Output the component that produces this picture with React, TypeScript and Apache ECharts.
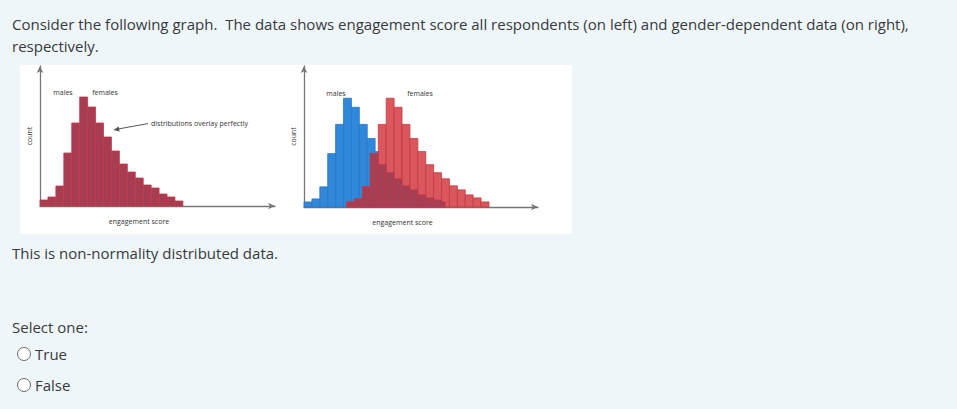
import React, { useEffect, useRef } from 'react';
import * as echarts from 'echarts';

// bin heights (arbitrary count units)
const allCounts = [6, 9, 20, 53, 83, 109, 99, 83, 69, 55, 42, 34, 28, 21, 18, 12, 9, 5];
const maleCounts = [5, 8, 20, 53, 82, 108, 99, 82, 68, 55, 42, 34, 28, 21, 17, 12, 9, 5];
const femaleCounts = [5, 8, 20, 53, 82, 108, 99, 82, 68, 55, 42, 34, 28, 21, 17, 12, 9, 5];
// where the two gender groups overlap (dark), on the female bins
const overlapCounts = [5, 8, 20, 53, 42, 34, 28, 21, 17, 12, 9, 7, 5];
const femaleShift = 5.4;
const overlapEnd = 12.45;

const scoreMax = 29.6;
const countMax = 140;

const toBins = (counts: number[], start: number, end?: number) =>
    counts.map((c, i) => [start + i, start + Math.min(i + 1, end ?? counts.length), c]);

const histItem = (fill: string, stroke: string) => (params: any, api: any) => {
    const p0 = api.coord([api.value(0), api.value(2)]);
    const p1 = api.coord([api.value(1), 0]);
    return {
        type: 'rect',
        shape: { x: p0[0], y: p0[1], width: p1[0] - p0[0], height: p1[1] - p0[1] },
        style: { fill, stroke, lineWidth: 0.8 },
    };
};

const txt = '#333';
const small = { fontFamily: 'Open Sans', fontSize: 7, color: txt };

const axisLine = {
    show: true,
    symbol: ['none', 'arrow'],
    symbolSize: [5, 7],
    lineStyle: { color: '#777', width: 1.3 },
};

const makeAxes = (gridIndex: number) => ({
    x: {
        type: 'value',
        gridIndex,
        min: 0,
        max: scoreMax,
        name: 'engagement score',
        nameLocation: 'middle',
        nameGap: 12,
        // the label sits left of the axis middle in the picture
        nameTextStyle: { ...small, padding: [0, 37, 0, 0] },
        axisLine,
        axisTick: { show: false },
        axisLabel: { show: false },
        splitLine: { show: false },
    },
    y: {
        type: 'value',
        gridIndex,
        min: 0,
        max: countMax,
        name: 'count',
        nameLocation: 'middle',
        nameGap: 7,
        nameRotate: 90,
        nameTextStyle: small,
        axisLine,
        axisTick: { show: false },
        axisLabel: { show: false },
        splitLine: { show: false },
    },
});

const label = (text: string, x: number, y: number, align = 'center') => ({
    type: 'text',
    x,
    y,
    style: {
        text,
        fill: txt,
        font: '7px "Open Sans"',
        textAlign: align,
        textVerticalAlign: 'middle',
    },
});

const Histograms = () => {
    const chartRef = useRef<HTMLDivElement>(null);

    useEffect(() => {
        if (!chartRef.current) return;
        const myChart = echarts.init(chartRef.current, null, { renderer: 'svg' });
        const left = makeAxes(0);
        const right = makeAxes(1);
        myChart.setOption({
            animation: false,
            backgroundColor: '#fff',
            grid: [
                { left: 20, top: 1, width: 235, height: 140 },
                { left: 284, top: 1, width: 234, height: 141 },
            ],
            xAxis: [left.x, right.x],
            yAxis: [left.y, right.y],
            series: [
                {
                    type: 'custom',
                    xAxisIndex: 0,
                    yAxisIndex: 0,
                    renderItem: histItem('#a63d51', '#c8364a'),
                    encode: { x: [0, 1], y: 2 },
                    data: toBins(allCounts, 0),
                },
                {
                    type: 'custom',
                    xAxisIndex: 1,
                    yAxisIndex: 1,
                    renderItem: histItem('#3088da', '#2a74c6'),
                    encode: { x: [0, 1], y: 2 },
                    data: toBins(maleCounts, 0),
                },
                {
                    type: 'custom',
                    xAxisIndex: 1,
                    yAxisIndex: 1,
                    renderItem: histItem('#d9575d', '#c43842'),
                    encode: { x: [0, 1], y: 2 },
                    data: toBins(femaleCounts, femaleShift),
                },
                {
                    type: 'custom',
                    xAxisIndex: 1,
                    yAxisIndex: 1,
                    renderItem: histItem('#a53f54', '#c0394b'),
                    encode: { x: [0, 1], y: 2 },
                    data: toBins(overlapCounts, femaleShift, overlapEnd),
                },
            ],
            graphic: [
                label('males', 43, 27),
                label('females', 85, 27),
                label('distributions overlay perfectly', 131, 58, 'left'),
                {
                    type: 'line',
                    shape: { x1: 128, y1: 58.6, x2: 98, y2: 64 },
                    style: { stroke: '#555', lineWidth: 1 },
                },
                {
                    type: 'polygon',
                    shape: { points: [[93.3, 65], [99.6, 66.6], [98.7, 61.6]] },
                    style: { fill: '#555' },
                },
                label('males', 316, 28),
                label('females', 400, 28),
            ],
        });
        return () => {
            myChart.dispose();
        };
    }, []);

    return (
        <div
            ref={chartRef}
            style={{ position: 'absolute', left: 20, top: 65, width: 552, height: 169 }}
        />
    );
};

const line = (top: number, left = 12): React.CSSProperties => ({
    position: 'absolute',
    top,
    left,
    whiteSpace: 'nowrap',
    lineHeight: '20px',
});

const Radio = ({ top }: { top: number }) => (
    <span
        style={{
            position: 'absolute',
            left: 17,
            top,
            width: 12,
            height: 12,
            border: '1px solid #6b6b6b',
            borderRadius: '50%',
            background: '#fff',
        }}
    />
);

export default function App() {
    return (
        <div
            style={{
                position: 'absolute',
                left: 0,
                top: 0,
                width: 957,
                height: 409,
                background: '#eff6fa',
                fontFamily: '"Open Sans", sans-serif',
                fontSize: 15,
                color: '#373a3c',
                overflow: 'hidden',
            }}
        >
            <div style={line(14)}>
                Consider the following graph.&nbsp; The data shows engagement score all respondents (on left) and gender-dependent data (on right),
            </div>
            <div style={line(36)}>respectively.</div>
            <Histograms />
            <div style={line(243)}>This is non-normality distributed data.</div>
            <div style={line(317)}>Select one:</div>
            <Radio top={347} />
            <div style={line(344, 35)}>True</div>
            <Radio top={378} />
            <div style={line(375, 35)}>False</div>
        </div>
    );
}
